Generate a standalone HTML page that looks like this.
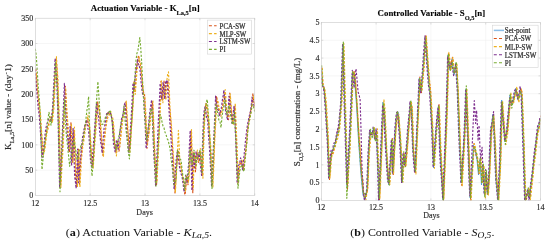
<!DOCTYPE html>
<html><head><meta charset="utf-8"><style>html,body{margin:0;padding:0;background:#fff;width:550px;height:244px;overflow:hidden}svg{display:block;filter:blur(0.3px)}</style></head><body>
<svg width="550" height="244" viewBox="0 0 550 244">
<rect width="550" height="244" fill="#fff"/>
<line x1="90.16" y1="18.2" x2="90.16" y2="195.5" stroke="#F0F0F0" stroke-width="0.6"/>
<line x1="145.02" y1="18.2" x2="145.02" y2="195.5" stroke="#F0F0F0" stroke-width="0.6"/>
<line x1="199.89" y1="18.2" x2="199.89" y2="195.5" stroke="#F0F0F0" stroke-width="0.6"/>
<line x1="35.3" y1="170.17" x2="254.75" y2="170.17" stroke="#F0F0F0" stroke-width="0.6"/>
<line x1="35.3" y1="144.84" x2="254.75" y2="144.84" stroke="#F0F0F0" stroke-width="0.6"/>
<line x1="35.3" y1="119.51" x2="254.75" y2="119.51" stroke="#F0F0F0" stroke-width="0.6"/>
<line x1="35.3" y1="94.19" x2="254.75" y2="94.19" stroke="#F0F0F0" stroke-width="0.6"/>
<line x1="35.3" y1="68.86" x2="254.75" y2="68.86" stroke="#F0F0F0" stroke-width="0.6"/>
<line x1="35.3" y1="43.53" x2="254.75" y2="43.53" stroke="#F0F0F0" stroke-width="0.6"/>
<line x1="376.1" y1="22.5" x2="376.1" y2="200.4" stroke="#F0F0F0" stroke-width="0.6"/>
<line x1="430.9" y1="22.5" x2="430.9" y2="200.4" stroke="#F0F0F0" stroke-width="0.6"/>
<line x1="485.7" y1="22.5" x2="485.7" y2="200.4" stroke="#F0F0F0" stroke-width="0.6"/>
<line x1="321.3" y1="182.61" x2="540.5" y2="182.61" stroke="#F0F0F0" stroke-width="0.6"/>
<line x1="321.3" y1="164.82" x2="540.5" y2="164.82" stroke="#F0F0F0" stroke-width="0.6"/>
<line x1="321.3" y1="147.03" x2="540.5" y2="147.03" stroke="#F0F0F0" stroke-width="0.6"/>
<line x1="321.3" y1="129.24" x2="540.5" y2="129.24" stroke="#F0F0F0" stroke-width="0.6"/>
<line x1="321.3" y1="111.45" x2="540.5" y2="111.45" stroke="#F0F0F0" stroke-width="0.6"/>
<line x1="321.3" y1="93.66" x2="540.5" y2="93.66" stroke="#F0F0F0" stroke-width="0.6"/>
<line x1="321.3" y1="75.87" x2="540.5" y2="75.87" stroke="#F0F0F0" stroke-width="0.6"/>
<line x1="321.3" y1="58.08" x2="540.5" y2="58.08" stroke="#F0F0F0" stroke-width="0.6"/>
<line x1="321.3" y1="40.29" x2="540.5" y2="40.29" stroke="#F0F0F0" stroke-width="0.6"/>
<g clip-path="url(#cl)">
<path d="M35.8 68.81 L36.65 79.19 L37.5 92.08 L38.33 98.3 L39.17 109.04 L40 116.58 L41 128.79 L42 140.4 L43 155.53 L43.75 150.05 L44.5 147.97 L45.5 139.97 L46.5 131.7 L47.5 126.64 L48.5 124.91 L49.5 120.69 L50.5 118.73 L51.25 120.21 L52 119.56 L52.75 112.14 L53.5 105.17 L54.33 88.56 L55.17 73.6 L56 58.01 L56.75 66.42 L57.5 79.6 L58.25 100.02 L59 121.57 L59.75 152.9 L60.5 185.01 L61.5 165.78 L62.5 149.67 L63.43 126.6 L64.37 109.44 L65.3 86.33 L65.9 97.4 L66.5 108.37 L67.25 119.07 L68 132.67 L68.75 143.07 L69.5 152.41 L70.25 138.88 L71 122.18 L71.75 139.77 L72.5 162.15 L73.25 143.79 L74 130.25 L74.75 152.17 L75.5 177.63 L76.25 183.56 L77 187.29 L77.75 166.09 L78.5 148.3 L79.5 184.53 L80.25 171.88 L81 157.17 L81.75 151.14 L82.5 143.33 L83.5 137.32 L84.5 129.46 L85.5 124.63 L86.5 123.68 L87.5 117.97 L88.5 124.68 L89.5 128.4 L90.5 143.47 L91.5 158.39 L92.15 160.96 L92.8 166.31 L93.65 153.78 L94.5 139.76 L95.5 126.56 L96.5 114.79 L97.5 101.74 L98.5 106.04 L99.5 112.13 L100.5 127.73 L101.5 142.03 L102.25 146.48 L103 155.34 L104 142.09 L105 130.85 L105.83 127.28 L106.67 120.91 L107.5 113.12 L108.5 112.09 L109.5 114.8 L110.5 112.96 L111.33 115.08 L112.17 121.29 L113 122.16 L113.75 133.66 L114.5 142.73 L115.25 146.94 L116 152 L116.75 145.42 L117.5 141.33 L118.25 143.84 L119 151.27 L119.75 146.34 L120.5 137.62 L121.5 125.27 L122.5 117.53 L123.5 116.35 L124.5 111.98 L125.2 109.31 L125.9 102.02 L126.7 115.77 L127.5 128.82 L128.5 138.03 L129.5 150.53 L130.25 143.25 L131 132.29 L131.95 119.55 L132.9 102.08 L133.9 82.03 L134.9 92.53 L135.7 80.89 L136.5 67.21 L137.5 61.38 L138.5 55.46 L139.3 59.62 L140.1 64.24 L140.9 69.78 L141.9 78.16 L142.9 89.49 L143.7 92.63 L144.5 94.04 L145.25 109.33 L146 125.29 L147 148.22 L147.75 140.6 L148.5 136.05 L149.5 123.17 L150.5 114.25 L151.5 108.77 L152.5 101.63 L153.5 124.82 L154.5 150.05 L155.5 167.86 L156.5 185.67 L157.5 162.02 L158.5 140.13 L159.33 122.4 L160.17 102.95 L161 81.36 L161.75 88.24 L162.5 99.94 L163.25 89.06 L164 81.18 L164.75 88.36 L165.5 97.26 L166.5 81.22 L167.25 83.49 L168 80.9 L168.75 94.64 L169.5 105.56 L170.25 114.16 L171 124.36 L171.75 134.76 L172.5 148.02 L173.25 162.39 L174 175.01 L175 192.89 L175.75 181.45 L176.5 166.62 L177.25 160.59 L178 150.24 L178.75 155.42 L179.5 162.16 L180.25 166.19 L181 166.39 L182 173.17 L183 178.08 L184 187.32 L185 196.71 L185.75 188.52 L186.5 175.47 L187.25 178.78 L188 184.75 L188.75 175.31 L189.5 163.62 L190.3 145.38 L191.1 131.29 L191.95 160.36 L192.8 192.74 L193.4 174.44 L194 152.03 L194.75 160.43 L195.5 171.7 L196.25 163.11 L197 151.92 L197.75 157.62 L198.5 162.32 L199.25 158.59 L200 151.44 L200.75 158.49 L201.5 166.85 L202.5 176.11 L203.5 140.37 L204.5 114.56 L205.25 108.15 L206 103.34 L206.83 108.59 L207.67 117.76 L208.5 122.22 L209.5 136.84 L210.5 150.42 L211.5 169.58 L212.5 184.2 L213.5 164.05 L214.5 140.03 L215.5 116.15 L216.5 95.91 L217.5 102.78 L218.5 109.14 L219.5 109.63 L220.5 114.08 L221.5 108.85 L222.5 108.23 L223.27 100.6 L224.03 99.07 L224.8 91.74 L225.65 102.65 L226.5 110.67 L227.5 116.85 L228.5 119.75 L229.15 105.66 L229.8 93.17 L230.65 103.85 L231.5 113.38 L232.25 119.63 L233 123.06 L233.95 114.18 L234.9 106.51 L235.7 124.69 L236.5 142.17 L237.25 161.6 L238 183.79 L238.75 173.2 L239.5 166.78 L240.5 163.17 L241.5 161.9 L242.5 167.17 L243.5 168.53 L244.5 160.61 L245.5 152.05 L246.5 143.67 L247.5 131.04 L248.5 124.06 L249.5 117.5 L250.5 111.19 L251.5 107.1 L252.2 101.53 L252.9 93.09 L253.68 100.87 L254.47 102.95 L255.25 111.53" fill="none" stroke="#D95319" stroke-width="1.15" stroke-dasharray="2.2 1.6" stroke-linejoin="round"/>
<path d="M36.2 73.74 L37.05 84.41 L37.9 92.69 L38.73 101.25 L39.57 107.07 L40.4 112.34 L41.4 128.21 L42.4 141.48 L43.4 154.51 L44.15 152.13 L44.9 150.01 L45.9 140.34 L46.9 133.42 L47.9 130.02 L48.9 125.02 L49.9 119.52 L50.9 115.85 L51.65 117.25 L52.4 122.64 L53.15 115.38 L53.9 108.64 L54.73 93.13 L55.57 72.01 L56.4 56.49 L57.15 67.64 L57.9 77.95 L58.65 98.23 L59.4 119.58 L60.15 153.55 L60.9 187.36 L61.9 167.57 L62.9 151.34 L63.83 132.51 L64.77 107.89 L65.7 87.97 L66.3 100.86 L66.9 112.7 L67.65 121.08 L68.4 130.27 L69.15 137.56 L69.9 149.67 L70.65 136.93 L71.4 123.61 L72.15 141.12 L72.9 162.22 L73.65 142.47 L74.4 127.16 L75.15 148.64 L75.9 174.79 L76.65 179.16 L77.4 186.91 L78.15 166.07 L78.9 149.28 L79.9 187.35 L80.65 174.43 L81.4 160.15 L82.15 152.8 L82.9 145.36 L83.9 140.46 L84.9 132.9 L85.9 123.42 L86.9 121.75 L87.9 115.14 L88.9 120.71 L89.9 128.95 L90.9 143.11 L91.9 157.82 L92.55 161.69 L93.2 168.06 L94.05 155.98 L94.9 142.99 L95.9 130.63 L96.9 118.53 L97.9 104.05 L98.9 109.62 L99.9 113.09 L100.9 126.51 L101.9 142.36 L102.65 149.19 L103.4 156.78 L104.4 144.22 L105.4 131.41 L106.23 124.27 L107.07 119.77 L107.9 117.44 L108.9 115.03 L109.9 111.59 L110.9 111.58 L111.73 116.08 L112.57 117.06 L113.4 121.74 L114.15 130.93 L114.9 144.12 L115.65 148.41 L116.4 155.89 L117.15 147.99 L117.9 142.77 L118.65 143.96 L119.4 147.97 L120.15 142.35 L120.9 136.52 L121.9 127.73 L122.9 119.29 L123.9 113.58 L124.9 109.77 L125.6 106.18 L126.3 101.18 L127.1 114.12 L127.9 129.94 L128.9 143.28 L129.9 152.55 L130.65 143.59 L131.4 130.01 L132.35 117.14 L133.3 101.99 L134.3 81.12 L135.3 94.3 L136.1 83.02 L136.9 72.4 L137.9 64.64 L138.9 56.77 L139.7 61.05 L140.5 62.28 L141.3 68.41 L142.3 80.05 L143.3 92.52 L144.1 95.06 L144.9 97.34 L145.65 109.54 L146.4 124.92 L147.4 145.33 L148.15 137.61 L148.9 133.95 L149.9 126.59 L150.9 116.2 L151.9 107.43 L152.9 100 L153.9 126.32 L154.9 152.45 L155.9 169.64 L156.9 182.61 L157.9 163.09 L158.9 142.47 L159.73 120.88 L160.57 103.81 L161.4 80.86 L162.15 91.16 L162.9 102.74 L163.65 91.59 L164.4 85.24 L165.15 93.56 L165.9 100.03 L166.9 80.11 L167.7 74.01 L168.5 71.91 L169.2 87.75 L169.9 105.53 L170.65 116.4 L171.4 123.87 L172.15 136.92 L172.9 148.25 L173.65 159.24 L174.4 175.07 L175.4 192.6 L176.15 178.93 L176.9 165.74 L177.65 147.65 L178.4 130.45 L179.15 146.12 L179.9 161.92 L180.65 164.18 L181.4 169.36 L182.4 175.34 L183.4 180.45 L184.4 184.17 L185.4 192.15 L186.15 183.23 L186.9 176.47 L187.65 178.78 L188.4 182.35 L189.15 176.31 L189.9 165.92 L190.7 145.66 L191.5 129.64 L192.35 160.27 L193.2 188.36 L193.8 171.27 L194.4 157.25 L195.15 162.8 L195.9 167.64 L196.65 158.34 L197.4 150.13 L198.15 155.95 L198.9 162.12 L199.65 156.56 L200.4 148.47 L201.15 155.34 L201.9 163.26 L202.9 178.28 L203.9 139.54 L204.9 116.3 L205.65 107.86 L206.4 103.19 L207.23 106.63 L208.07 111.75 L208.9 119.17 L209.9 135.35 L210.9 148.03 L211.9 168.24 L212.9 187.04 L213.9 164.57 L214.9 137.5 L215.9 119.08 L216.9 98.73 L217.9 100.56 L218.9 107.15 L219.9 112.56 L220.9 116.38 L221.9 112.14 L222.9 105.13 L223.67 101.05 L224.43 94.72 L225.2 89.53 L226.05 100 L226.9 111.88 L227.9 114.7 L228.9 117.94 L229.55 107.52 L230.2 94.1 L231.05 103.97 L231.9 116.15 L232.65 120.36 L233.4 124.31 L234.35 113.67 L235.3 103.26 L236.1 125.37 L236.9 142.94 L237.65 162.95 L238.4 179.91 L239.15 173.22 L239.9 162.22 L240.9 162.32 L241.9 159.07 L242.9 163.86 L243.9 170.69 L244.9 159.73 L245.9 151.45 L246.9 139.51 L247.9 127.68 L248.9 122.15 L249.9 119.02 L250.9 112.74 L251.9 107.18 L252.6 102.33 L253.3 95.69 L254.08 103.09 L254.87 106.72 L255.65 111.6" fill="none" stroke="#EDB120" stroke-width="1.15" stroke-dasharray="2.2 1.6" stroke-linejoin="round"/>
<path d="M34.9 69.69 L35.75 77.76 L36.6 90.22 L37.43 99.14 L38.27 108.62 L39.1 114.35 L40.1 127.5 L41.1 142.91 L42.1 157.52 L42.85 153.54 L43.6 148.63 L44.6 138.33 L45.6 129.83 L46.6 125.02 L47.6 121.57 L48.6 119.19 L49.6 118.69 L50.35 119.09 L51.1 120.8 L51.85 114.21 L52.6 106.67 L53.43 89.61 L54.27 73.93 L55.1 58.48 L55.85 70.53 L56.6 79.85 L57.35 98.4 L58.1 121.68 L58.85 155.13 L59.6 187.88 L60.6 170.46 L61.6 150.7 L62.53 127.26 L63.47 104.35 L64.4 83.25 L65 98.48 L65.6 110.67 L66.35 119.95 L67.1 131.84 L67.85 139.42 L68.6 150.12 L69.35 137.84 L70.1 126.21 L70.85 147.02 L71.6 165.86 L72.35 144.85 L73.1 127.82 L73.85 151.17 L74.6 176.29 L75.35 181.54 L76.1 188.46 L76.85 170.4 L77.6 149.01 L78.6 182.66 L79.35 171.93 L80.1 161.83 L80.85 155.12 L81.6 144.86 L82.6 136.95 L83.6 131.53 L84.6 126.09 L85.6 123.75 L86.6 119.89 L87.6 127.41 L88.6 131.07 L89.6 146.34 L90.6 162.11 L91.25 163.42 L91.9 167.47 L92.75 152.59 L93.6 141.5 L94.6 128.73 L95.6 114.1 L96.6 102.72 L97.6 111.48 L98.6 117.18 L99.6 131.23 L100.6 141.89 L101.35 145.86 L102.1 152.99 L103.1 139.48 L104.1 128.18 L104.93 124.85 L105.77 119.16 L106.6 113.58 L107.6 114.7 L108.6 111.97 L109.6 112.33 L110.43 112.93 L111.27 116.19 L112.1 119.68 L112.85 134.13 L113.6 145.63 L114.35 147.68 L115.1 152.01 L115.85 145.25 L116.6 140.04 L117.35 144.32 L118.1 149.43 L118.85 141.44 L119.6 134.25 L120.6 125.89 L121.6 118.43 L122.6 116.53 L123.6 110.42 L124.3 105 L125 103.02 L125.8 114.49 L126.6 130.91 L127.6 143.74 L128.6 152.14 L129.35 143.86 L130.1 131.78 L131.05 119.55 L132 102.45 L133 82.86 L134 90.32 L134.8 80.73 L135.6 71.8 L136.6 67.81 L137.6 59.32 L138.4 65.03 L139.2 65.07 L140 70.02 L141 81.41 L142 90.35 L142.8 95.39 L143.6 97.07 L144.35 111.13 L145.1 123.56 L146.1 148.66 L146.85 142.11 L147.6 135.37 L148.6 123.59 L149.6 113.92 L150.6 106.08 L151.6 99.82 L152.6 124.43 L153.6 151.77 L154.6 166.95 L155.6 186.45 L156.6 162.64 L157.6 137.94 L158.43 118.73 L159.27 103.2 L160.1 83.5 L160.85 89.25 L161.6 99.55 L162.35 92.92 L163.1 82.25 L163.85 91.58 L164.6 98.97 L165.6 81.34 L166.35 82.72 L167.1 79.86 L167.85 93.28 L168.6 102.72 L169.35 116.15 L170.1 125.57 L170.85 137.03 L171.6 147.72 L172.35 159.47 L173.1 176.09 L174.1 189.15 L174.85 179.26 L175.6 166.9 L176.35 158.01 L177.1 152.4 L177.85 155.21 L178.6 160.03 L179.35 166.07 L180.1 170.49 L181.1 173.9 L182.1 177.05 L183.1 184.04 L184.1 191.88 L184.85 185.89 L185.6 175.5 L186.35 179.64 L187.1 182.66 L187.85 172.28 L188.6 163.49 L189.4 145.78 L190.2 130.54 L191.05 162.35 L191.9 190.55 L192.5 171.8 L193.1 153.28 L193.85 161.91 L194.6 167.71 L195.35 159.03 L196.1 151.84 L196.85 153.94 L197.6 159.07 L198.35 155.85 L199.1 152.29 L199.85 161.22 L200.6 166.98 L201.6 175.39 L202.6 139.8 L203.6 115.1 L204.35 109.27 L205.1 106.72 L205.93 112.76 L206.77 118 L207.6 120.48 L208.6 136.92 L209.6 150.3 L210.6 170.07 L211.6 186.6 L212.6 161.94 L213.6 142.2 L214.6 119.76 L215.6 96.04 L216.6 104.66 L217.6 109.66 L218.6 110.63 L219.6 116.1 L220.6 110.25 L221.6 106.69 L222.37 99.97 L223.13 95.7 L223.9 90.01 L224.75 100.81 L225.6 112.39 L226.6 116.11 L227.6 120.11 L228.25 109.56 L228.9 96.24 L229.75 101.91 L230.6 112.56 L231.35 116.34 L232.1 124.58 L233.05 113.62 L234 106.4 L234.8 120.12 L235.6 137.6 L236.35 157.93 L237.1 182.58 L237.85 176.49 L238.6 165.66 L239.6 163.5 L240.6 157.8 L241.6 162.15 L242.6 170.64 L243.6 160.24 L244.6 149.83 L245.6 139.44 L246.6 130.9 L247.6 124.15 L248.6 119.26 L249.6 114.41 L250.6 111.03 L251.3 104.85 L252 97.19 L252.78 101.1 L253.57 103.44 L254.35 107.61" fill="none" stroke="#7E2F8E" stroke-width="1.15" stroke-dasharray="2.2 1.6" stroke-linejoin="round"/>
<path d="M35.3 48.74 L35.9 52.84 L36.5 59.6 L37.5 75.46 L38.5 89.9 L39.25 98.37 L40 109.65 L41 137.77 L42 169.57 L43 159.7 L44 149.9 L45 141.66 L46 135.42 L47 129.7 L48 118.5 L49 112.3 L50 118.9 L51 125.27 L52 118.59 L53 109.72 L53.83 93.46 L54.67 79.88 L55.5 62.04 L56.5 75.82 L57.5 89.78 L58.33 122.71 L59.17 157.35 L60 191.67 L61 168.79 L62 149.61 L62.83 132.66 L63.67 115.34 L64.5 99.71 L65.25 116.63 L66 130.43 L66.75 139.2 L67.5 145.33 L68.6 155.81 L69.7 166.31 L70.47 159.1 L71.23 154.65 L72 150.3 L73 143.97 L74 139.69 L75 145.23 L76 152.03 L77 159.81 L78 158.06 L79 151.92 L80 150.13 L81 145.03 L82 145.24 L83 140.23 L84 133.2 L85 127.61 L86 118.35 L86.87 110.64 L87.73 105.31 L88.6 96.38 L89.3 118.6 L90 139.59 L91 159.01 L92 176.11 L93 164.12 L94 150.17 L95 130.07 L96 110.01 L96.95 94.21 L97.9 81.68 L98.95 97.17 L100 114.97 L101 121.28 L102 124.59 L103 124.14 L104 122.18 L105 118.43 L106 115.76 L107 115.02 L108 112.37 L109 112.4 L110 110.05 L111 115.49 L112 119.8 L113 131.36 L114 140.41 L115 145.35 L116 150.07 L117 145.85 L118 140.38 L119 136.11 L120 130.35 L121 124.25 L122 120.01 L123 114.65 L124 105.91 L125 119.83 L126 130.1 L127.13 138.01 L128.27 151.2 L129.4 158.93 L130.2 146.14 L131 129.66 L132 115.41 L133 99.81 L134 84.82 L135 75.07 L136 60.31 L136.95 53.13 L137.9 50.8 L138.85 43.9 L139.8 37.54 L140.65 46.79 L141.5 59.55 L142.25 73.51 L143 90.13 L144 105.49 L145 119.78 L145.75 130.18 L146.5 140.03 L147.25 135.99 L148 129.97 L149 124.12 L150 114.84 L151 110.54 L152 108.5 L153 127.11 L154 149.7 L155 169.49 L156 185.91 L157 165.86 L158 149.7 L159 133.42 L160 114.13 L161 116.42 L162 121.78 L163 126.06 L164 127.86 L165 132.18 L166 134.25 L167 138.55 L168 139.82 L169 144.14 L170 148.06 L171 158.25 L172 165.4 L173 173.81 L174 184.6 L175 182.77 L176 179.56 L176.75 163.97 L177.5 149.73 L178.25 154.06 L179 155.27 L180 158.78 L181 160.12 L181.88 167.41 L182.75 175.03 L183.62 180.44 L184.5 189.74 L185.25 180.42 L186 174.83 L187 177.63 L188 179.68 L189 164.77 L190 149.96 L191 158.71 L192 164.54 L193 157.8 L194 150.2 L195 156.35 L196 165.4 L197 159.88 L198 155.45 L199 153.92 L200 150.23 L201 161.44 L202 172.46 L202.75 149.03 L203.5 129.52 L204.25 121 L205 109.79 L205.77 107.66 L206.53 101.25 L207.3 99.47 L208.15 112.54 L209 125.28 L209.75 137.12 L210.5 149.91 L211.25 170.33 L212 188.44 L213 163.53 L214 140.12 L215 121.15 L216 104.32 L217 109.5 L218 114.79 L219 120.96 L220 121.77 L221 127.69 L222 117.28 L223 109.94 L224 105.27 L225 99.64 L226 108.8 L227 114.88 L228 110.22 L229 105.46 L230 111.38 L231 117.83 L232 122.6 L233 124.51 L233.7 119.13 L234.4 111.54 L235.2 126.37 L236 144.67 L237 168 L238 188.28 L239 177.86 L240 169.86 L241 166.54 L242 164.79 L243 169.54 L244 171.6 L245 160.73 L246 150.48 L247 141.4 L248 129.92 L249 122.49 L250 117.71 L251 112.63 L252 104.56 L252.92 105.6 L253.83 107.82 L254.75 111.56" fill="none" stroke="#77AC30" stroke-width="1.15" stroke-dasharray="2.2 1.6" stroke-linejoin="round"/>
</g>
<g clip-path="url(#cr)">
<path d="M321.3 68 L322.3 84 L324 88 L325.5 105 L327.5 140 L329 179 L330.5 160 L331.5 152 L333 150 L334.5 145 L336 140 L339 126 L341 105 L343 44 L344.5 100 L346 150 L347 186 L349 150 L351 110 L352.3 74 L353.5 73 L355 85 L356.5 105 L358.5 140 L361 175 L363 195 L365 200 L367 190 L368.5 150 L370 130 L372 135 L373.5 128 L375 140 L376.5 130 L378 170 L379 201 L381 150 L383 102 L384 110 L386 150 L388 180 L389 185 L390.5 160 L391.8 140 L392.7 174 L394 150 L395.5 125 L397 114 L398 112 L400 140 L402 183 L403.5 155 L405 165 L406.5 150 L408 130 L410.4 103 L411.5 110 L413 150 L415 172 L416.5 140 L418 110 L419.4 78 L421 90 L423 70 L425.4 38 L427 60 L429 85 L430 92 L432 130 L433.5 168 L436 130 L438.5 105 L440 150 L443 200 L445 150 L446.5 110 L448 55 L450 70 L452 59 L454 75 L456 63 L457.5 90 L459 130 L461.3 183 L463.5 150 L465 120 L466 89 L467.5 130 L469 170 L470.2 198 L472 170 L473.5 145 L475 150 L477 160 L478.5 175 L480 160 L481.5 185 L483 165 L484.5 195 L486 172 L487.5 195 L489 175 L490 150 L491 130 L493 114 L494.5 140 L496 180 L498 200 L500 160 L501.7 100 L503 120 L505 142 L507 130 L510 95 L511.5 105 L513 100 L516 88 L518 100 L520.5 89 L521.5 95 L523.5 150 L525 199 L527 195 L528 189 L529.4 199 L531 185 L533 168 L535 150 L537 135 L539 125 L540.5 118" fill="none" stroke="#4B9BD9" stroke-width="0.9" stroke-linejoin="round"/>
<path d="M321.8 67.71 L322.8 84.36 L323.65 86.09 L324.5 90.55 L325.25 97.97 L326 104.79 L327 124.18 L328 140.05 L328.75 160.36 L329.5 179.52 L330.25 167.72 L331 158.11 L332 152.07 L332.75 153.51 L333.5 150.78 L334.25 147.29 L335 146.76 L335.75 139.74 L336.5 137.56 L337.5 132.16 L338.5 128.8 L339.5 124.82 L340.5 111.48 L341.5 102.54 L342.5 72.58 L343.5 45.86 L344.25 72.85 L345 101.16 L345.75 124.57 L346.5 147.25 L347.5 188.89 L348.5 169 L349.5 152.79 L350.5 131.17 L351.5 110.92 L352.15 94.76 L352.8 74.69 L353.4 75.22 L354 70.94 L354.75 77.3 L355.5 82.09 L356.25 94.59 L357 105.17 L358 121.69 L359 137.36 L359.83 147.49 L360.67 158.89 L361.5 173.14 L362.5 180.89 L363.5 193.45 L364.5 197.37 L365.5 197.18 L366.5 194.49 L367.5 189.78 L368.25 172.03 L369 149.64 L369.75 138.46 L370.5 132.05 L371.5 134.27 L372.5 135.11 L373.25 131.89 L374 128.84 L374.75 135.57 L375.5 140 L376.25 134.58 L377 130.97 L377.75 152.86 L378.5 169.74 L379.5 199.67 L380.5 174.2 L381.5 152.99 L382.5 129.21 L383.5 104.97 L384.5 112.04 L385.5 132.83 L386.5 151.25 L387.5 167.07 L388.5 178.89 L389.5 183.38 L390.25 172.24 L391 158.73 L391.65 149.1 L392.3 137.42 L393.2 175.6 L393.85 163.97 L394.5 149.4 L395.25 140.32 L396 127.08 L396.75 119.46 L397.5 113.32 L398.5 114.75 L399.5 129.34 L400.5 142.08 L401.5 163.05 L402.5 180 L403.25 168.49 L404 153.26 L404.75 159.95 L405.5 167.46 L406.25 160.09 L407 149.82 L407.75 143.17 L408.5 132.88 L409.3 123.08 L410.1 113.18 L410.9 102.38 L412 107.44 L412.75 128.52 L413.5 150.78 L414.5 162.64 L415.5 173.67 L416.25 156.69 L417 138.62 L417.75 120.97 L418.5 107.52 L419.2 92.96 L419.9 77 L420.7 87.36 L421.5 92.78 L422.5 84.07 L423.5 71.55 L424.3 60.74 L425.1 47.1 L425.9 35.71 L426.7 48.27 L427.5 58.48 L428.5 70.95 L429.5 82.61 L430.5 89.36 L431.5 110.27 L432.5 131.78 L433.25 150.62 L434 166.07 L434.83 152.08 L435.67 143.51 L436.5 130.36 L437.33 119.45 L438.17 113.75 L439 104.68 L439.75 126.32 L440.5 148.14 L441.5 164.54 L442.5 184.63 L443.5 201.39 L444.5 174.57 L445.5 147.79 L446.25 129.9 L447 110.86 L447.75 83.88 L448.5 52.7 L449.5 59.89 L450.5 69.52 L451.5 60.96 L452.5 57.28 L453.5 64.45 L454.5 73.62 L455.5 70.61 L456.5 65.83 L457.25 77.34 L458 91.82 L458.75 108.67 L459.5 128.82 L460.27 149.68 L461.03 167.28 L461.8 185.31 L462.9 166.5 L464 148.26 L464.75 135.77 L465.5 119.37 L466.5 91.13 L467.25 110.12 L468 130.85 L468.75 150.06 L469.5 167.6 L470.1 182.76 L470.7 200.94 L471.6 184.26 L472.5 168.28 L473.25 157.44 L474 143.55 L474.75 149.66 L475.5 151.64 L476.5 157.21 L477.5 158.97 L478.25 165.8 L479 173.78 L479.75 166.02 L480.5 157.44 L481.25 169.07 L482 182.54 L482.75 172.2 L483.5 165.5 L484.25 179.46 L485 193.46 L485.75 184.72 L486.5 172.61 L487.25 185.16 L488 194.23 L488.75 185.53 L489.5 174.72 L490.5 152.75 L491.5 129.9 L492.5 124.42 L493.5 114.45 L494.25 127.21 L495 142.2 L495.75 158.49 L496.5 178.1 L497.5 187.76 L498.5 197.92 L499.5 179.06 L500.5 162.45 L501.35 130.75 L502.2 101.91 L502.85 109.77 L503.5 118.5 L504.5 129.95 L505.5 140.14 L506.5 135.76 L507.5 131.44 L508.5 119.25 L509.5 110.6 L510.5 97.64 L511.25 102.82 L512 103.18 L512.75 102.7 L513.5 102.7 L514.5 96.44 L515.5 92.09 L516.5 90.29 L517.5 97.32 L518.5 100.62 L519.33 94.3 L520.17 93.6 L521 88.53 L522 92.62 L523 120.28 L524 147.23 L524.75 173.55 L525.5 201.78 L526.5 199.06 L527.5 193.43 L528.5 190.23 L529.2 191.48 L529.9 197.54 L530.7 190.42 L531.5 186.94 L532.5 177.53 L533.5 168.58 L534.5 156.29 L535.5 148.76 L536.5 142.55 L537.5 133.05 L538.5 128.37 L539.5 126.32 L540.25 119.07 L541 115.41" fill="none" stroke="#D95319" stroke-width="1.15" stroke-dasharray="2.2 1.6" stroke-linejoin="round"/>
<path d="M322.2 67.85 L323.2 84.94 L324.05 89.37 L324.9 89 L325.65 96.23 L326.4 102.86 L327.4 120.58 L328.4 137.07 L329.15 159.76 L329.9 178.25 L330.65 170.76 L331.4 158.64 L332.4 153.86 L333.15 153.8 L333.9 151.14 L334.65 147.96 L335.4 145.61 L336.15 143.42 L336.9 140.35 L337.9 137.89 L338.9 132.87 L339.9 126.97 L340.9 115.32 L341.9 102.87 L342.9 72.49 L343.9 43.64 L344.65 70.15 L345.4 97.97 L346.15 126.38 L346.9 152.44 L347.9 183.35 L348.9 167.95 L349.9 151.91 L350.9 127.27 L351.9 107.45 L352.55 92.34 L353.2 75.12 L353.8 75.59 L354.4 72.02 L355.15 79.71 L355.9 84.43 L356.65 97.73 L357.4 107.05 L358.4 124.14 L359.4 137.11 L360.23 149.04 L361.07 162.06 L361.9 172.36 L362.9 184.32 L363.9 197.49 L364.9 196.76 L365.9 200.05 L366.9 193.07 L367.9 187.55 L368.65 169.29 L369.4 152.92 L370.15 144.97 L370.9 132.68 L371.9 133.62 L372.9 132.68 L373.65 130.32 L374.4 127.54 L375.15 133.29 L375.9 137.81 L376.65 131.47 L377.4 128.88 L378.15 149.97 L378.9 170.73 L379.9 198.98 L380.9 176.08 L381.9 151.18 L382.9 124.72 L383.9 99.31 L384.9 108.03 L385.9 128.69 L386.9 151.89 L387.9 165.18 L388.9 179.4 L389.9 184.51 L390.65 171.66 L391.4 160.58 L392.05 151.14 L392.7 139.86 L393.6 173.31 L394.25 158.45 L394.9 147.18 L395.65 134.72 L396.4 126.36 L397.15 120.64 L397.9 116.8 L398.9 114.86 L399.9 128.9 L400.9 140.98 L401.9 162.86 L402.9 182.14 L403.65 168.96 L404.4 154.18 L405.15 162.33 L405.9 166.14 L406.65 157.92 L407.4 151.04 L408.15 137.01 L408.9 127.68 L409.7 118.86 L410.5 109.89 L411.3 101.41 L412.4 109.18 L413.15 128.02 L413.9 150.07 L414.9 162.8 L415.9 173.86 L416.65 156.14 L417.4 140 L418.15 122.28 L418.9 107.17 L419.6 92.69 L420.3 79.94 L421.1 86.98 L421.9 89.58 L422.9 77.39 L423.9 70.11 L424.7 58.16 L425.5 46.49 L426.3 36.33 L427.1 46.45 L427.9 59.56 L428.9 71.61 L429.9 84.33 L430.9 93.63 L431.9 109.23 L432.9 127.62 L433.65 150.05 L434.4 168.3 L435.23 154.89 L436.07 142.47 L436.9 128.07 L437.73 119.08 L438.57 113.3 L439.4 106.18 L440.15 127.23 L440.9 147.22 L441.9 166.08 L442.9 180.26 L443.9 198.66 L444.9 173.66 L445.9 149.07 L446.65 131.72 L447.4 110.82 L448.15 83.23 L448.9 52.31 L449.9 59.67 L450.9 69.76 L451.9 63.69 L452.9 57.25 L453.9 66.78 L454.9 73.69 L455.9 67.75 L456.9 62.86 L457.65 78.67 L458.4 92.75 L459.15 112.14 L459.9 129.89 L460.67 150.86 L461.43 167.39 L462.2 185.74 L463.3 167.77 L464.4 148.01 L465.15 134.53 L465.9 122.55 L466.9 88.19 L467.65 109.32 L468.4 128.14 L469.15 148.92 L469.9 171.49 L470.5 185.98 L471.1 200.47 L472 183.06 L472.9 167.04 L473.65 154.36 L474.4 143.61 L475.15 145.8 L475.9 151.62 L476.9 153.97 L477.9 159.05 L478.65 166.47 L479.4 173.45 L480.15 164.01 L480.9 157.05 L481.65 167.38 L482.4 182.24 L483.15 175.5 L483.9 165.71 L484.65 180.74 L485.4 197.9 L486.15 188.63 L486.9 174.99 L487.65 185.5 L488.4 195.02 L489.15 183.03 L489.9 172.14 L490.9 148.93 L491.9 131.72 L492.9 125.72 L493.9 115.99 L494.65 130.4 L495.4 140.84 L496.15 158.71 L496.9 178.38 L497.9 187.4 L498.9 200.16 L499.9 180.72 L500.9 159.86 L501.75 132.03 L502.6 100.76 L503.25 110.21 L503.9 118.58 L504.9 133.05 L505.9 144.68 L506.9 138.09 L507.9 132.37 L508.9 119.82 L509.9 104.92 L510.9 92.97 L511.65 97.89 L512.4 103.75 L513.15 102.39 L513.9 102.24 L514.9 96.47 L515.9 91.36 L516.9 86.67 L517.9 96.2 L518.9 102.66 L519.73 96.49 L520.57 92.14 L521.4 89.09 L522.4 96.18 L523.4 122.48 L524.4 151.23 L525.15 176.61 L525.9 197.28 L526.9 195.61 L527.9 193.71 L528.9 187.53 L529.6 191.58 L530.3 200.1 L531.1 194.81 L531.9 186.16 L532.9 177.85 L533.9 165.79 L534.9 160.66 L535.9 152.32 L536.9 142.71 L537.9 134.52 L538.9 130.16 L539.9 123.45 L540.65 119.56 L541.4 117.61" fill="none" stroke="#EDB120" stroke-width="1.15" stroke-dasharray="2.2 1.6" stroke-linejoin="round"/>
<path d="M320.9 66.55 L321.9 85.11 L322.75 86.36 L323.6 89.1 L324.35 95.79 L325.1 107.1 L326.1 122.09 L327.1 138.11 L327.85 155.68 L328.6 177.38 L329.35 168.92 L330.1 157.88 L331.1 150.35 L331.85 151.38 L332.6 151.4 L333.35 144.61 L334.1 142.78 L334.85 142.85 L335.6 140.19 L336.6 133.34 L337.6 129.49 L338.6 124.28 L339.6 114.3 L340.6 103.77 L341.6 72.84 L342.6 43.59 L343.35 71.75 L344.1 102.03 L344.85 126.01 L345.6 150.65 L346.6 183.09 L347.6 164.06 L348.6 148.66 L349.6 130.09 L350.6 107.88 L351.45 87.11 L352.3 70.23 L353.2 80.66 L354.1 87.86 L355.05 76.94 L356 68.84 L357.05 79.41 L358.1 91.96 L359.1 95.16 L360.1 99.47 L361.1 132.7 L362.1 171.76 L362.85 180.32 L363.6 193.54 L364.6 202.1 L365.6 194.15 L366.6 189.92 L367.35 170.03 L368.1 151.53 L368.85 140.67 L369.6 130.38 L370.6 134.36 L371.6 134.58 L372.35 133.33 L373.1 127.19 L373.85 131.1 L374.6 139.58 L375.35 134.41 L376.1 128.88 L376.85 146.44 L377.6 167.7 L378.6 202.92 L379.6 178.87 L380.6 151.79 L381.6 127.47 L382.6 104.91 L383.6 111.15 L384.6 132.7 L385.6 150.33 L386.6 166.13 L387.6 181.49 L388.6 182.81 L389.35 170.06 L390.1 161.06 L390.75 147.89 L391.4 139.66 L392.3 172.06 L392.95 158.88 L393.6 148.22 L394.35 138.52 L395.1 125.14 L395.85 117.08 L396.6 112.52 L397.6 111.76 L398.6 126.09 L399.6 140.63 L400.6 160.86 L401.6 182.37 L402.35 166.8 L403.1 152.78 L403.85 160.37 L404.6 164.95 L405.35 155.25 L406.1 148.41 L406.85 139.51 L407.6 128.41 L408.4 120.16 L409.2 112.43 L410 101.17 L411.1 109.2 L411.85 128.42 L412.6 147.44 L413.6 162.28 L414.6 172.91 L415.35 157.52 L416.1 142.72 L416.85 126.4 L417.6 109.34 L418.3 94.93 L419 79.31 L419.8 87.65 L420.6 92.6 L421.6 81.92 L422.6 67.26 L423.4 54.87 L424.2 44.51 L425 35.85 L425.8 49.01 L426.6 61.84 L427.6 75.99 L428.6 87.03 L429.6 92.83 L430.6 110.56 L431.6 127.96 L432.35 146.72 L433.1 167.48 L433.93 158.03 L434.77 142.96 L435.6 132.21 L436.43 121.85 L437.27 113.38 L438.1 107.32 L438.85 127.22 L439.6 151.82 L440.6 168.42 L441.6 180.79 L442.6 198.22 L443.6 176.25 L444.6 152.12 L445.35 132.52 L446.1 109.25 L446.85 85.27 L447.6 56.3 L448.6 63.61 L449.6 67.82 L450.6 64.45 L451.6 61.83 L452.6 69.34 L453.6 75.62 L454.6 71.64 L455.6 64.34 L456.35 77.38 L457.1 88.27 L457.85 108.44 L458.6 130.7 L459.37 149.61 L460.13 163.94 L460.9 183.49 L462 166.06 L463.1 150.55 L463.85 137.33 L464.6 119.16 L465.6 90.37 L466.35 109.56 L467.1 129.05 L467.85 147.75 L468.6 168.77 L469.2 183.8 L469.8 195.99 L470.7 178.3 L471.6 161.1 L472.5 138.48 L473.4 118.46 L474.3 100.67 L474.95 110.81 L475.6 123.35 L476.6 110.41 L477.35 124.8 L478.1 140.86 L479.1 125.34 L479.85 144.98 L480.6 160.26 L481.35 152.48 L482.1 147.23 L482.85 167.69 L483.6 184.64 L484.1 194.06 L484.85 183.57 L485.6 169.56 L486.35 180.37 L487.1 192.02 L487.85 187.47 L488.6 177.99 L489.6 147.73 L490.6 128.81 L491.6 124.39 L492.6 117.27 L493.6 111.61 L494.1 140.58 L494.85 157.83 L495.6 177.46 L496.6 188.45 L497.6 199.82 L498.6 181.52 L499.6 159.2 L500.45 130.79 L501.3 102.01 L501.95 107.99 L502.6 117.03 L503.6 128.4 L504.6 141.01 L505.6 135.37 L506.6 129.98 L507.6 117.71 L508.6 108.9 L509.6 97.82 L510.35 99.13 L511.1 105.1 L511.85 104.08 L512.6 99.85 L513.6 94.63 L514.6 90.64 L515.6 89.02 L516.6 94.34 L517.6 98.78 L518.43 93.62 L519.27 92.31 L520.1 86.19 L521.1 95.01 L522.1 123.72 L523.1 152.46 L523.85 176.55 L524.6 200.43 L525.6 198.66 L526.6 193.55 L527.6 190.1 L528.3 194.17 L529 201.09 L529.8 193.55 L530.6 183.55 L531.6 176.78 L532.6 168.53 L533.6 158.47 L534.6 149.13 L535.6 143.6 L536.6 133.47 L537.6 126.2 L538.6 123.72 L539.35 121.78 L540.1 116.22" fill="none" stroke="#7E2F8E" stroke-width="1.15" stroke-dasharray="2.2 1.6" stroke-linejoin="round"/>
<path d="M321.6 65.25 L322.6 85.42 L323.45 87.46 L324.3 89.06 L325.05 97.98 L325.8 108.08 L326.8 124.67 L327.8 138.4 L328.55 156.63 L329.3 177.29 L330.05 168.81 L330.8 161.64 L331.8 153.11 L332.55 150.49 L333.3 148.62 L334.05 145.6 L334.8 146.29 L335.55 141.39 L336.3 139.28 L337.3 133.73 L338.3 132.85 L339.3 127.94 L340.3 113.37 L341.3 102.33 L342.3 73.04 L343.3 42.06 L344.05 71.05 L344.8 102.81 L345.55 126.64 L346.3 149.01 L346.8 198.32 L347.63 183.71 L348.47 166.79 L349.3 152.13 L350.3 133.69 L351.3 110.92 L351.95 92.02 L352.6 71.55 L353.2 72.74 L353.8 73.36 L354.55 77.49 L355.3 86.15 L356.05 93.93 L356.8 102.65 L357.8 120.69 L358.8 141.06 L359.63 151.34 L360.47 164.09 L361.3 172.36 L362.3 184.93 L363.3 193.86 L364.3 193.28 L365.3 197.08 L366.3 193.41 L367.3 187.93 L368.05 172.81 L368.8 153.35 L369.55 141.55 L370.3 129.33 L371.3 131.86 L372.3 138.43 L373.05 134.84 L373.8 127.57 L374.55 133.79 L375.3 140.75 L376.05 139.08 L376.8 132.61 L377.55 153.83 L378.3 171.31 L379.3 198.28 L380.3 176.1 L381.3 150.62 L382.3 128.94 L383.3 102.94 L384.3 107.77 L385.3 125.31 L386.3 147.16 L387.3 166.36 L388.3 182.62 L389.3 185.1 L390.05 170.5 L390.8 157.86 L391.45 146.94 L392.1 139.67 L393 172.03 L393.65 161.45 L394.3 152.09 L395.05 138.99 L395.8 125 L396.55 115.63 L397.3 111.22 L398.3 114.23 L399.3 125.43 L400.3 137.13 L401.3 160.72 L402.3 181.46 L403.05 166.56 L403.8 151.7 L404.55 159.33 L405.3 166.68 L406.05 155.97 L406.8 147.3 L407.55 141.1 L408.3 130.18 L409.1 118.91 L409.9 111.07 L410.7 100.15 L411.8 109.86 L412.55 131.31 L413.3 151.3 L414.3 159.27 L415.3 172.24 L416.05 158.45 L416.8 139.69 L417.55 123.47 L418.3 109.89 L419 96.17 L419.7 77.56 L420.5 86.26 L421.3 90.67 L422.3 80.92 L423.3 67.16 L424.1 59.16 L424.9 47.09 L425.7 37.82 L426.5 47.71 L427.3 58.15 L428.3 72.08 L429.3 87.56 L430.3 95.07 L431.3 113.2 L432.3 126.97 L433.05 143.88 L433.8 165.5 L434.63 152.33 L435.47 145.07 L436.3 131.42 L437.13 124.32 L437.97 115.17 L438.8 105.5 L439.55 128.41 L440.3 146.63 L441.3 165.02 L442.3 184.84 L443.3 201.43 L444.3 176.99 L445.3 153.11 L446.05 133.29 L446.8 109.46 L447.55 79.55 L448.3 53.93 L449.3 61.9 L450.3 70.49 L451.3 66.66 L452.3 62.07 L453.3 69.18 L454.3 73.34 L455.3 67.09 L456.3 61.62 L457.05 75.62 L457.8 87.82 L458.55 111.7 L459.3 130.9 L460.07 147.79 L460.83 163.99 L461.6 182.78 L462.7 163.19 L463.8 148.29 L464.55 135.56 L465.3 119.22 L466.3 85.74 L467.05 107.1 L467.8 128.69 L468.55 150.47 L469.3 173.38 L469.9 186.09 L470.5 198.6 L471.4 181.64 L472.3 168.48 L473.05 156.88 L473.8 148.05 L474.55 147.21 L475.3 149.01 L476.3 152.41 L477.3 158.26 L478.05 166.8 L478.8 171.75 L479.55 163.37 L480.3 157.52 L481.05 168.16 L481.8 182.89 L482.55 174.84 L483.3 163.11 L484.05 180.65 L484.8 197.61 L485.55 181.62 L486.3 170.35 L487.05 182.67 L487.8 193.24 L488.55 185.42 L489.3 175.73 L490.3 152.92 L491.3 128.54 L492.3 122.93 L493.3 115.83 L494.05 128.83 L494.8 139.08 L495.55 159.37 L496.3 180.43 L497.3 189.17 L498.3 200.67 L499.3 183.1 L500.3 163.1 L501.15 133.07 L502 101.8 L502.65 111.95 L503.3 120.06 L504.3 130.64 L505.3 144.39 L506.3 136.09 L507.3 129.07 L508.3 118.4 L509.3 105.24 L510.3 94.19 L511.05 101.72 L511.8 108.22 L512.55 104.14 L513.3 100.32 L514.3 98.13 L515.3 92.63 L516.3 89.91 L517.3 94.3 L518.3 98.7 L519.13 98.08 L519.97 93.22 L520.8 91.91 L521.8 95.79 L522.8 120.39 L523.8 148.23 L524.55 175.82 L525.3 202.04 L526.3 196.57 L527.3 194.78 L528.3 187.88 L529 194.39 L529.7 197.34 L530.5 188.66 L531.3 182.22 L532.3 176.08 L533.3 165.9 L534.3 158.79 L535.3 151.35 L536.3 140.19 L537.3 132.48 L538.3 128 L539.3 123.31 L540.05 121.38 L540.8 117.63" fill="none" stroke="#77AC30" stroke-width="1.15" stroke-dasharray="2.2 1.6" stroke-linejoin="round"/>
</g>
<line x1="35.3" y1="170.17" x2="37.3" y2="170.17" stroke="#C8C8C8" stroke-width="0.6"/>
<line x1="254.75" y1="170.17" x2="252.75" y2="170.17" stroke="#C8C8C8" stroke-width="0.6"/>
<line x1="35.3" y1="144.84" x2="37.3" y2="144.84" stroke="#C8C8C8" stroke-width="0.6"/>
<line x1="254.75" y1="144.84" x2="252.75" y2="144.84" stroke="#C8C8C8" stroke-width="0.6"/>
<line x1="35.3" y1="119.51" x2="37.3" y2="119.51" stroke="#C8C8C8" stroke-width="0.6"/>
<line x1="254.75" y1="119.51" x2="252.75" y2="119.51" stroke="#C8C8C8" stroke-width="0.6"/>
<line x1="35.3" y1="94.19" x2="37.3" y2="94.19" stroke="#C8C8C8" stroke-width="0.6"/>
<line x1="254.75" y1="94.19" x2="252.75" y2="94.19" stroke="#C8C8C8" stroke-width="0.6"/>
<line x1="35.3" y1="68.86" x2="37.3" y2="68.86" stroke="#C8C8C8" stroke-width="0.6"/>
<line x1="254.75" y1="68.86" x2="252.75" y2="68.86" stroke="#C8C8C8" stroke-width="0.6"/>
<line x1="35.3" y1="43.53" x2="37.3" y2="43.53" stroke="#C8C8C8" stroke-width="0.6"/>
<line x1="254.75" y1="43.53" x2="252.75" y2="43.53" stroke="#C8C8C8" stroke-width="0.6"/>
<rect x="35.3" y="18.2" width="219.45" height="177.3" fill="none" stroke="#C8C8C8" stroke-width="0.6"/>
<line x1="35.3" y1="195.5" x2="35.3" y2="193.5" stroke="#C8C8C8" stroke-width="0.6"/>
<line x1="35.3" y1="18.2" x2="35.3" y2="20.2" stroke="#C8C8C8" stroke-width="0.6"/>
<line x1="90.16" y1="195.5" x2="90.16" y2="193.5" stroke="#C8C8C8" stroke-width="0.6"/>
<line x1="90.16" y1="18.2" x2="90.16" y2="20.2" stroke="#C8C8C8" stroke-width="0.6"/>
<line x1="145.02" y1="195.5" x2="145.02" y2="193.5" stroke="#C8C8C8" stroke-width="0.6"/>
<line x1="145.02" y1="18.2" x2="145.02" y2="20.2" stroke="#C8C8C8" stroke-width="0.6"/>
<line x1="199.89" y1="195.5" x2="199.89" y2="193.5" stroke="#C8C8C8" stroke-width="0.6"/>
<line x1="199.89" y1="18.2" x2="199.89" y2="20.2" stroke="#C8C8C8" stroke-width="0.6"/>
<line x1="254.75" y1="195.5" x2="254.75" y2="193.5" stroke="#C8C8C8" stroke-width="0.6"/>
<line x1="254.75" y1="18.2" x2="254.75" y2="20.2" stroke="#C8C8C8" stroke-width="0.6"/>
<line x1="321.3" y1="182.61" x2="323.3" y2="182.61" stroke="#C8C8C8" stroke-width="0.6"/>
<line x1="540.5" y1="182.61" x2="538.5" y2="182.61" stroke="#C8C8C8" stroke-width="0.6"/>
<line x1="321.3" y1="164.82" x2="323.3" y2="164.82" stroke="#C8C8C8" stroke-width="0.6"/>
<line x1="540.5" y1="164.82" x2="538.5" y2="164.82" stroke="#C8C8C8" stroke-width="0.6"/>
<line x1="321.3" y1="147.03" x2="323.3" y2="147.03" stroke="#C8C8C8" stroke-width="0.6"/>
<line x1="540.5" y1="147.03" x2="538.5" y2="147.03" stroke="#C8C8C8" stroke-width="0.6"/>
<line x1="321.3" y1="129.24" x2="323.3" y2="129.24" stroke="#C8C8C8" stroke-width="0.6"/>
<line x1="540.5" y1="129.24" x2="538.5" y2="129.24" stroke="#C8C8C8" stroke-width="0.6"/>
<line x1="321.3" y1="111.45" x2="323.3" y2="111.45" stroke="#C8C8C8" stroke-width="0.6"/>
<line x1="540.5" y1="111.45" x2="538.5" y2="111.45" stroke="#C8C8C8" stroke-width="0.6"/>
<line x1="321.3" y1="93.66" x2="323.3" y2="93.66" stroke="#C8C8C8" stroke-width="0.6"/>
<line x1="540.5" y1="93.66" x2="538.5" y2="93.66" stroke="#C8C8C8" stroke-width="0.6"/>
<line x1="321.3" y1="75.87" x2="323.3" y2="75.87" stroke="#C8C8C8" stroke-width="0.6"/>
<line x1="540.5" y1="75.87" x2="538.5" y2="75.87" stroke="#C8C8C8" stroke-width="0.6"/>
<line x1="321.3" y1="58.08" x2="323.3" y2="58.08" stroke="#C8C8C8" stroke-width="0.6"/>
<line x1="540.5" y1="58.08" x2="538.5" y2="58.08" stroke="#C8C8C8" stroke-width="0.6"/>
<line x1="321.3" y1="40.29" x2="323.3" y2="40.29" stroke="#C8C8C8" stroke-width="0.6"/>
<line x1="540.5" y1="40.29" x2="538.5" y2="40.29" stroke="#C8C8C8" stroke-width="0.6"/>
<rect x="321.3" y="22.5" width="219.2" height="177.9" fill="none" stroke="#C8C8C8" stroke-width="0.6"/>
<line x1="321.3" y1="200.4" x2="321.3" y2="198.4" stroke="#C8C8C8" stroke-width="0.6"/>
<line x1="321.3" y1="22.5" x2="321.3" y2="24.5" stroke="#C8C8C8" stroke-width="0.6"/>
<line x1="376.1" y1="200.4" x2="376.1" y2="198.4" stroke="#C8C8C8" stroke-width="0.6"/>
<line x1="376.1" y1="22.5" x2="376.1" y2="24.5" stroke="#C8C8C8" stroke-width="0.6"/>
<line x1="430.9" y1="200.4" x2="430.9" y2="198.4" stroke="#C8C8C8" stroke-width="0.6"/>
<line x1="430.9" y1="22.5" x2="430.9" y2="24.5" stroke="#C8C8C8" stroke-width="0.6"/>
<line x1="485.7" y1="200.4" x2="485.7" y2="198.4" stroke="#C8C8C8" stroke-width="0.6"/>
<line x1="485.7" y1="22.5" x2="485.7" y2="24.5" stroke="#C8C8C8" stroke-width="0.6"/>
<line x1="540.5" y1="200.4" x2="540.5" y2="198.4" stroke="#C8C8C8" stroke-width="0.6"/>
<line x1="540.5" y1="22.5" x2="540.5" y2="24.5" stroke="#C8C8C8" stroke-width="0.6"/>
<defs><clipPath id="cl"><rect x="35.3" y="18.2" width="219.45" height="177.3"/></clipPath><clipPath id="cr"><rect x="321.3" y="22.5" width="219.2" height="177.9"/></clipPath></defs>
<g font-family="Liberation Serif, serif" stroke="#3a3a3a" stroke-width="0.16">
<text x="33.2" y="198.3" text-anchor="end" font-size="8" fill="#262626">0</text>
<text x="33.2" y="172.97" text-anchor="end" font-size="8" fill="#262626">50</text>
<text x="33.2" y="147.64" text-anchor="end" font-size="8" fill="#262626">100</text>
<text x="33.2" y="122.31" text-anchor="end" font-size="8" fill="#262626">150</text>
<text x="33.2" y="96.99" text-anchor="end" font-size="8" fill="#262626">200</text>
<text x="33.2" y="71.66" text-anchor="end" font-size="8" fill="#262626">250</text>
<text x="33.2" y="46.33" text-anchor="end" font-size="8" fill="#262626">300</text>
<text x="33.2" y="21" text-anchor="end" font-size="8" fill="#262626">350</text>
<text x="35.3" y="205.6" text-anchor="middle" font-size="8" fill="#262626">12</text>
<text x="90.16" y="205.6" text-anchor="middle" font-size="8" fill="#262626">12.5</text>
<text x="145.02" y="205.6" text-anchor="middle" font-size="8" fill="#262626">13</text>
<text x="199.89" y="205.6" text-anchor="middle" font-size="8" fill="#262626">13.5</text>
<text x="254.75" y="205.6" text-anchor="middle" font-size="8" fill="#262626">14</text>
<text x="144.6" y="215" text-anchor="middle" font-size="8" fill="#262626">Days</text>
<text x="319.4" y="203.2" text-anchor="end" font-size="8" fill="#262626">0</text>
<text x="319.4" y="185.41" text-anchor="end" font-size="8" fill="#262626">0.5</text>
<text x="319.4" y="167.62" text-anchor="end" font-size="8" fill="#262626">1</text>
<text x="319.4" y="149.83" text-anchor="end" font-size="8" fill="#262626">1.5</text>
<text x="319.4" y="132.04" text-anchor="end" font-size="8" fill="#262626">2</text>
<text x="319.4" y="114.25" text-anchor="end" font-size="8" fill="#262626">2.5</text>
<text x="319.4" y="96.46" text-anchor="end" font-size="8" fill="#262626">3</text>
<text x="319.4" y="78.67" text-anchor="end" font-size="8" fill="#262626">3.5</text>
<text x="319.4" y="60.88" text-anchor="end" font-size="8" fill="#262626">4</text>
<text x="319.4" y="43.09" text-anchor="end" font-size="8" fill="#262626">4.5</text>
<text x="319.4" y="25.3" text-anchor="end" font-size="8" fill="#262626">5</text>
<text x="321.3" y="210.2" text-anchor="middle" font-size="8" fill="#262626">12</text>
<text x="376.1" y="210.2" text-anchor="middle" font-size="8" fill="#262626">12.5</text>
<text x="430.9" y="210.2" text-anchor="middle" font-size="8" fill="#262626">13</text>
<text x="485.7" y="210.2" text-anchor="middle" font-size="8" fill="#262626">13.5</text>
<text x="540.5" y="210.2" text-anchor="middle" font-size="8" fill="#262626">14</text>
<text x="431.4" y="218" text-anchor="middle" font-size="8" fill="#262626">Days</text>
<text x="145.2" y="11.2" text-anchor="middle" font-size="8.85" font-weight="bold" fill="#000">Actuation Variable - K<tspan font-size="6.4" dy="4">La,5</tspan><tspan dy="-4">[n]</tspan></text>
<text x="431.4" y="15.6" text-anchor="middle" font-size="8.85" font-weight="bold" fill="#000">Controlled Variable - S<tspan font-size="6.4" dy="4">O,5</tspan><tspan dy="-4">[n]</tspan></text>
<text transform="translate(11.1 107) rotate(-90)" text-anchor="middle" font-size="9.2" fill="#262626">K<tspan font-size="6.3" dy="3">La,5</tspan><tspan dy="-3">[n] value - (day</tspan><tspan font-size="5.5" dy="-3.6" dx="0.8">-</tspan><tspan dy="3.6" dx="0.6">1)</tspan></text>
<text transform="translate(300.2 112) rotate(-90)" text-anchor="middle" font-size="9" fill="#262626">S<tspan font-size="6.1" dy="3">O,5</tspan><tspan dy="-3">[n] concentration - (mg/L)</tspan></text>
<rect x="207.4" y="20.1" width="44.2" height="34" fill="#fff" stroke="#D5D5D5" stroke-width="0.6"/>
<line x1="208.9" y1="25.8" x2="216.6" y2="25.8" stroke="#D95319" stroke-width="1.1" stroke-dasharray="3.0 2.2"/>
<text transform="translate(219.6 28.7) scale(0.92 1)" font-size="7.45" fill="#262626" stroke-width="0.24">PCA-SW</text>
<line x1="208.9" y1="33.65" x2="216.6" y2="33.65" stroke="#EDB120" stroke-width="1.1" stroke-dasharray="3.0 2.2"/>
<text transform="translate(219.6 36.55) scale(0.92 1)" font-size="7.45" fill="#262626" stroke-width="0.24">MLP-SW</text>
<line x1="208.9" y1="41.5" x2="216.6" y2="41.5" stroke="#7E2F8E" stroke-width="1.1" stroke-dasharray="3.0 2.2"/>
<text transform="translate(219.6 44.4) scale(0.92 1)" font-size="7.45" fill="#262626" stroke-width="0.24">LSTM-SW</text>
<line x1="208.9" y1="49.35" x2="216.6" y2="49.35" stroke="#77AC30" stroke-width="1.1" stroke-dasharray="3.0 2.2"/>
<text transform="translate(219.6 52.25) scale(0.92 1)" font-size="7.45" fill="#262626" stroke-width="0.24">PI</text>
<rect x="492.3" y="25.2" width="45.8" height="42.2" fill="#fff" stroke="#D5D5D5" stroke-width="0.6"/>
<line x1="493.8" y1="30.4" x2="504" y2="30.4" stroke="#8BBDE6" stroke-width="1.5"/>
<text transform="translate(504.8 33.3) scale(0.92 1)" font-size="7.61" fill="#262626" stroke-width="0.24">Set-point</text>
<line x1="493.8" y1="38.5" x2="504" y2="38.5" stroke="#D95319" stroke-width="1.1" stroke-dasharray="3.0 2.2"/>
<text transform="translate(504.8 41.4) scale(0.92 1)" font-size="7.61" fill="#262626" stroke-width="0.24">PCA-SW</text>
<line x1="493.8" y1="46.6" x2="504" y2="46.6" stroke="#EDB120" stroke-width="1.1" stroke-dasharray="3.0 2.2"/>
<text transform="translate(504.8 49.5) scale(0.92 1)" font-size="7.61" fill="#262626" stroke-width="0.24">MLP-SW</text>
<line x1="493.8" y1="54.7" x2="504" y2="54.7" stroke="#7E2F8E" stroke-width="1.1" stroke-dasharray="3.0 2.2"/>
<text transform="translate(504.8 57.6) scale(0.92 1)" font-size="7.61" fill="#262626" stroke-width="0.24">LSTM-SW</text>
<line x1="493.8" y1="62.8" x2="504" y2="62.8" stroke="#77AC30" stroke-width="1.1" stroke-dasharray="3.0 2.2"/>
<text transform="translate(504.8 65.7) scale(0.92 1)" font-size="7.61" fill="#262626" stroke-width="0.24">PI</text>
</g>
<g transform="translate(65.8 235.8) scale(1.18 1)"><text x="0" y="0" font-size="10.3" fill="#111" font-family="Liberation Serif, serif">(<tspan font-weight="bold">a</tspan>) Actuation Variable - <tspan font-style="italic">K<tspan font-size="8.2" dy="1.9">La,5</tspan></tspan><tspan dy="-1.9">.</tspan></text></g>
<g transform="translate(350.3 235.8) scale(1.16 1)"><text x="0" y="0" font-size="10.3" fill="#111" font-family="Liberation Serif, serif">(<tspan font-weight="bold">b</tspan>) Controlled Variable - <tspan font-style="italic">S<tspan font-size="8.2" dy="1.9">O,5</tspan></tspan><tspan dy="-1.9">.</tspan></text></g>
</svg>
</body></html>
